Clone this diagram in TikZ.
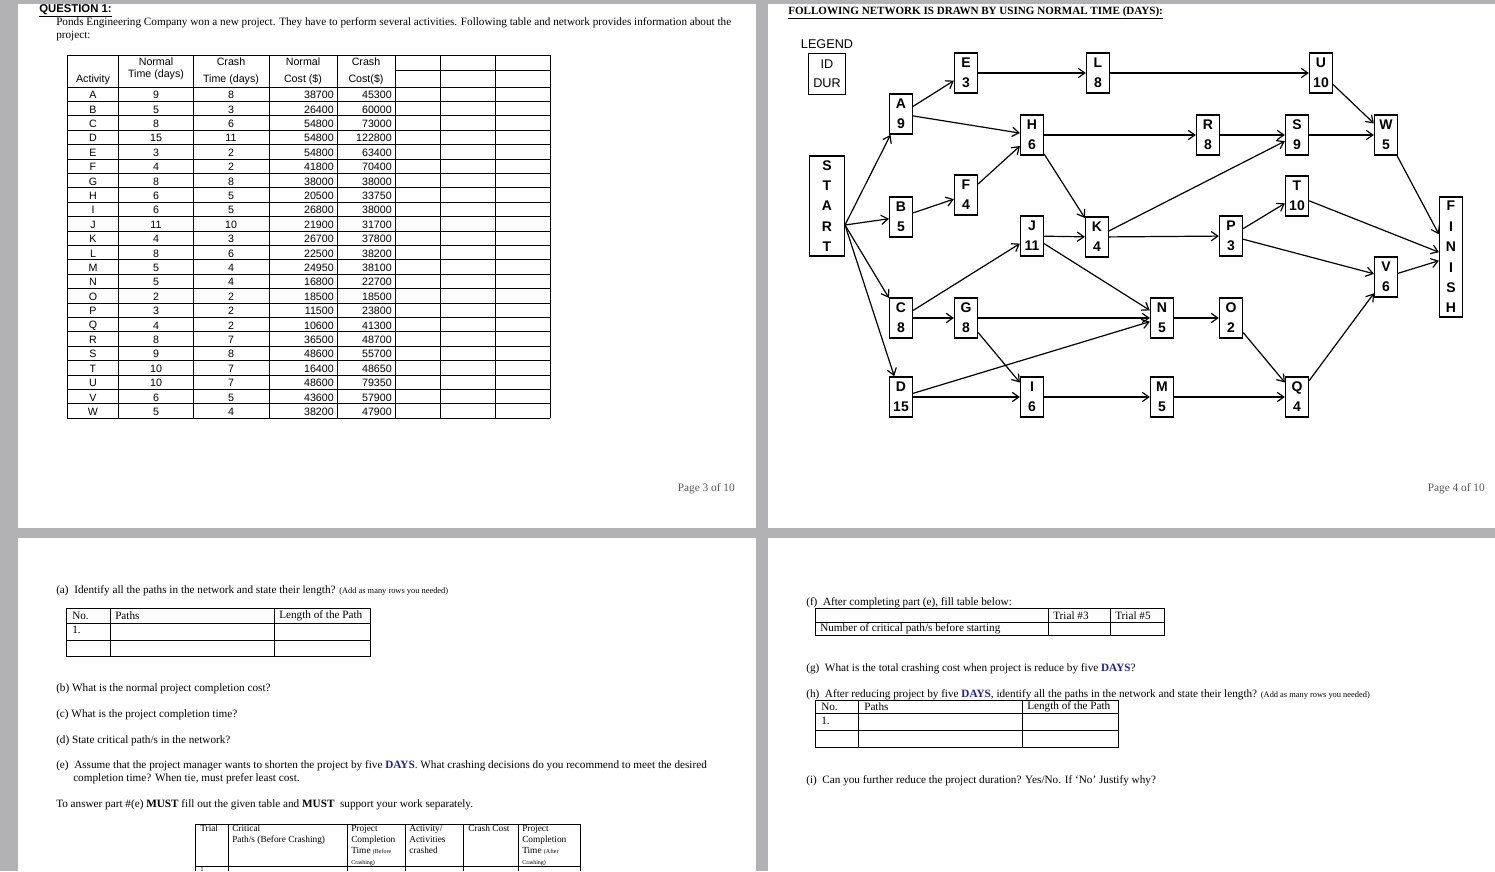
\documentclass[tikz,border=0pt]{standalone}
\usepackage{fontspec}
\setmainfont{Liberation Serif}
\setsansfont{Liberation Sans}
\usetikzlibrary{arrows.meta}
\definecolor{bg}{RGB}{178,178,180}
\definecolor{dblue}{RGB}{30,30,160}
\tikzset{
 tx/.style={anchor=west,inner sep=0pt,font=\fontsize{8.4}{10}\selectfont},
 ts/.style={inner sep=0pt,font=\sffamily\fontsize{8}{9}\selectfont},
 box/.style={draw,line width=1.2pt,minimum width=17pt,minimum height=30pt,inner sep=0pt,align=center,font=\sffamily\bfseries\fontsize{10.5}{15}\selectfont},
 ar/.style={-{Straight Barb[length=5pt,width=7pt]},line width=0.9pt},
 tl/.style={line width=0.6pt}
}
\newcommand{\dys}{\textcolor{dblue}{\textbf{DAYS}}}
\begin{document}
\begin{tikzpicture}[x=0.75pt,y=-0.75pt]
\useasboundingbox (0,0) rectangle (1495,871);
\fill[bg] (0,0) rectangle (1495,871);
\fill[white] (18,4) rectangle (756,528);
\fill[white] (768,4) rectangle (1495,528);
\fill[white] (18,538) rectangle (756,871);
\fill[white] (768,538) rectangle (1495,871);
% ---------- page 3 of 10 ----------
\node[anchor=west,inner sep=0pt,font=\sffamily\bfseries\fontsize{8.5}{9}\selectfont] (q1) at (39,11) {\underline{QUESTION 1:}};
\node[tx] (intro1) at (56,23) {Ponds Engineering Company won a new project. They have to perform several activities. Following table and network provides information about the};
\node[tx] (intro2) at (56,36) {project:};
% table
\foreach \x in {67,118,193,269,337,395,440,495,550} \draw[tl] (\x,55) -- (\x,418);
\draw[tl] (67,55) -- (550,55);
\draw[tl] (395,70) -- (550,70);
\foreach \i in {0,...,23} \draw[tl] (67,87+14.4*\i) -- (550,87+14.4*\i);
\node[ts] (h1) at (156,62) {Normal};
\node[ts] (h2) at (156,75) {Time (days)};
\node[ts] (h3) at (93,80) {Activity};
\node[ts] (h4) at (231,62) {Crash};
\node[ts] (h5) at (231,80) {Time (days)};
\node[ts] (h6) at (303,62) {Normal};
\node[ts] (h7) at (303,80) {Cost (\$)};
\node[ts] (h8) at (366,62) {Crash};
\node[ts] (h9) at (366,80) {Cost(\$)};
\foreach \a/\n/\c/\nc/\cc [count=\i from 0] in {A/9/8/38700/45300,B/5/3/26400/60000,C/8/6/54800/73000,D/15/11/54800/122800,E/3/2/54800/63400,F/4/2/41800/70400,G/8/8/38000/38000,H/6/5/20500/33750,I/6/5/26800/38000,J/11/10/21900/31700,K/4/3/26700/37800,L/8/6/22500/38200,M/5/4/24950/38100,N/5/4/16800/22700,O/2/2/18500/18500,P/3/2/11500/23800,Q/4/2/10600/41300,R/8/7/36500/48700,S/9/8/48600/55700,T/10/7/16400/48650,U/10/7/48600/79350,V/6/5/43600/57900,W/5/4/38200/47900}{
 \node[ts] (ra\i) at (93,95+14.4*\i) {\a};
 \node[ts] (rn\i) at (156,95+14.4*\i) {\n};
 \node[ts] (rc\i) at (231,95+14.4*\i) {\c};
 \node[ts,anchor=east] (rnc\i) at (334,95+14.4*\i) {\nc};
 \node[ts,anchor=east] (rcc\i) at (392,95+14.4*\i) {\cc};
}
\node[anchor=east,inner sep=0pt,text=black!65,font=\fontsize{8.5}{9}\selectfont] (pg3) at (735,489) {Page 3 of 10};
% ---------- page 4 of 10 ----------
\node[anchor=west,inner sep=0pt,font=\bfseries\fontsize{8.3}{9}\selectfont] (t2) at (788,13) {\underline{FOLLOWING NETWORK IS DRAWN BY USING NORMAL TIME (DAYS):}};
\node[inner sep=0pt,font=\sffamily\fontsize{9.5}{10}\selectfont] (leg) at (827,44) {LEGEND};
\node[draw,line width=1.2pt,minimum width=28pt,minimum height=31pt,inner sep=0pt,align=center,font=\sffamily\fontsize{9.5}{14}\selectfont] (lg) at (827,74) {ID\\DUR};
\node[box,minimum width=26pt,minimum height=75pt,font=\sffamily\bfseries\fontsize{10.5}{15.3}\selectfont] (st) at (827,206) {S\\T\\A\\R\\T};
\node[box,minimum height=90pt,font=\sffamily\bfseries\fontsize{10.5}{15.3}\selectfont] (fi) at (1451,257) {F\\I\\N\\I\\S\\H};
\node[box] (A) at (901,114) {A\\9};
\node[box] (B) at (901,217) {B\\5};
\node[box] (C) at (901,318) {C\\8};
\node[box] (D) at (901,397) {D\\15};
\node[box] (E) at (966,73) {E\\3};
\node[box] (F) at (966,195) {F\\4};
\node[box] (G) at (966,318) {G\\8};
\node[box] (H) at (1032,135) {H\\6};
\node[box] (J) at (1032,236) {J\\11};
\node[box] (I) at (1032,397) {I\\6};
\node[box] (L) at (1098,73) {L\\8};
\node[box] (K) at (1097,237) {K\\4};
\node[box] (N) at (1162,318) {N\\5};
\node[box] (M) at (1162,397) {M\\5};
\node[box] (R) at (1208,135) {R\\8};
\node[box] (P) at (1231,236) {P\\3};
\node[box] (O) at (1231,318) {O\\2};
\node[box] (U) at (1321,73) {U\\10};
\node[box] (S) at (1297,135) {S\\9};
\node[box] (T) at (1297,196) {T\\10};
\node[box] (Q) at (1297,397) {Q\\4};
\node[box] (W) at (1386,135) {W\\5};
\node[box] (V) at (1386,277) {V\\6};
\coordinate (so) at (845,225);
\draw[ar] (so) -- (A);
\draw[ar] (so) -- (B);
\draw[ar] (so) -- (C);
\draw[ar] (so) -- (D);
\draw[ar] (A) -- (E);
\draw[ar] (A) -- (H);
\draw[ar] (E) -- (L);
\draw[ar] (L) -- (U);
\draw[ar] (U) -- (W);
\draw[ar] (B) -- (F);
\draw[ar] (F) -- (H);
\draw[ar] (H) -- (R);
\draw[ar] (H) -- (K);
\draw[ar] (R) -- (S);
\draw[ar] (S) -- (W);
\draw[ar] (W) -- (fi);
\draw[ar] (C) -- (J);
\draw[ar] (C) -- (G);
\draw[ar] (J) -- (K);
\draw[ar] (J) -- (N);
\draw[ar] (K) -- (S);
\draw[ar] (K) -- (P);
\draw[ar] (P) -- (T);
\draw[ar] (P) -- (V);
\draw[ar] (T) -- (fi);
\draw[ar] (V) -- (fi);
\draw[ar] (G) -- (N);
\draw[ar] (G) -- (I);
\draw[ar] (D) -- (N);
\draw[ar] (D) -- (I);
\draw[ar] (N) -- (O);
\draw[ar] (O) -- (Q);
\draw[ar] (I) -- (M);
\draw[ar] (M) -- (Q);
\draw[ar] (Q) -- (V);
\node[anchor=east,inner sep=0pt,text=black!65,font=\fontsize{8.5}{9}\selectfont] (pg4) at (1485,489) {Page 4 of 10};
% ---------- page 5 ----------
\node[tx] (qa) at (56,591) {(a)\ \ Identify all the paths in the network and state their length? {\fontsize{6.3}{7}\selectfont(Add as many rows you needed)}};
\draw[tl] (66,608) rectangle (370,656);
\draw[tl] (66,623) -- (370,623) (66,640) -- (370,640) (110,608) -- (110,656) (274,608) -- (274,656);
\node[tx] (a1) at (72,616) {No.};
\node[tx] (a2) at (115,616) {Paths};
\node[tx] (a3) at (279,616) {Length of the Path};
\node[tx] (a4) at (72,630) {1.};
\node[tx] (qb) at (56,689) {(b) What is the normal project completion cost?};
\node[tx] (qc) at (56,715) {(c) What is the project completion time?};
\node[tx] (qd) at (56,741) {(d) State critical path/s in the network?};
\node[tx] (qe) at (56,766) {(e)\ \ Assume that the project manager wants to shorten the project by five \dys. What crashing decisions do you recommend to meet the desired};
\node[tx] (qe2) at (73,779) {completion time? When tie, must prefer least cost.};
\node[tx] (qx) at (56,805) {To answer part \#(e) \textbf{MUST} fill out the given table and \textbf{MUST}\ \ support your work separately.};
\draw[tl] (195,824) -- (580,824) (195,866) -- (580,866);
\foreach \x in {195,228,347,405,463,518,580} \draw[tl] (\x,824) -- (\x,871);
\begin{scope}[every node/.style={anchor=north west,inner sep=0pt,align=left,font=\fontsize{7}{8.2}\selectfont}]
\node (b1) at (200,825) {Trial};
\node (b2) at (232,825) {Critical\\Path/s (Before Crashing)};
\node (b3) at (351,825) {Project\\Completion\\Time {\fontsize{4.5}{5}\selectfont(Before}\\{\fontsize{4.5}{5}\selectfont Crashing)}};
\node (b4) at (409,825) {Activity/\\Activities\\crashed};
\node (b5) at (468,825) {Crash Cost};
\node (b6) at (522,825) {Project\\Completion\\Time {\fontsize{4.5}{5}\selectfont(After}\\{\fontsize{4.5}{5}\selectfont Crashing)}};
\node[font=\fontsize{5}{5}\selectfont] (b7) at (200,866.5) {1};
\end{scope}
% ---------- page 6 ----------
\node[tx] (qf) at (806,603) {(f)\ \ After completing part (e), fill table below:};
\draw[tl] (815,608) rectangle (1164,635);
\draw[tl] (815,622) -- (1164,622) (1048,608) -- (1048,635) (1110,608) -- (1110,635);
\node[tx] (f1) at (1053,615.5) {Trial \#3};
\node[tx] (f2) at (1115,615.5) {Trial \#5};
\node[tx] (f3) at (820,629) {Number of critical path/s before starting};
\node[tx] (qg) at (806,669) {(g)\ \ What is the total crashing cost when project is reduce by five \dys?};
\node[tx] (qh) at (806,695) {(h)\ \ After reducing project by five \dys, identify all the paths in the network and state their length? {\fontsize{6.3}{7}\selectfont(Add as many rows you needed)}};
\draw[tl] (815,700) rectangle (1118,747);
\draw[tl] (815,713) -- (1118,713) (815,730) -- (1118,730) (858,700) -- (858,747) (1022,700) -- (1022,747);
\node[tx] (h1b) at (821,707) {No.};
\node[tx] (h2b) at (864,707) {Paths};
\node[tx] (h3b) at (1027,707) {Length of the Path};
\node[tx] (h4b) at (821,721) {1.};
\node[tx] (qi) at (806,781) {(i)\ \ Can you further reduce the project duration? Yes/No. If `No' Justify why?};
\end{tikzpicture}
\end{document}
